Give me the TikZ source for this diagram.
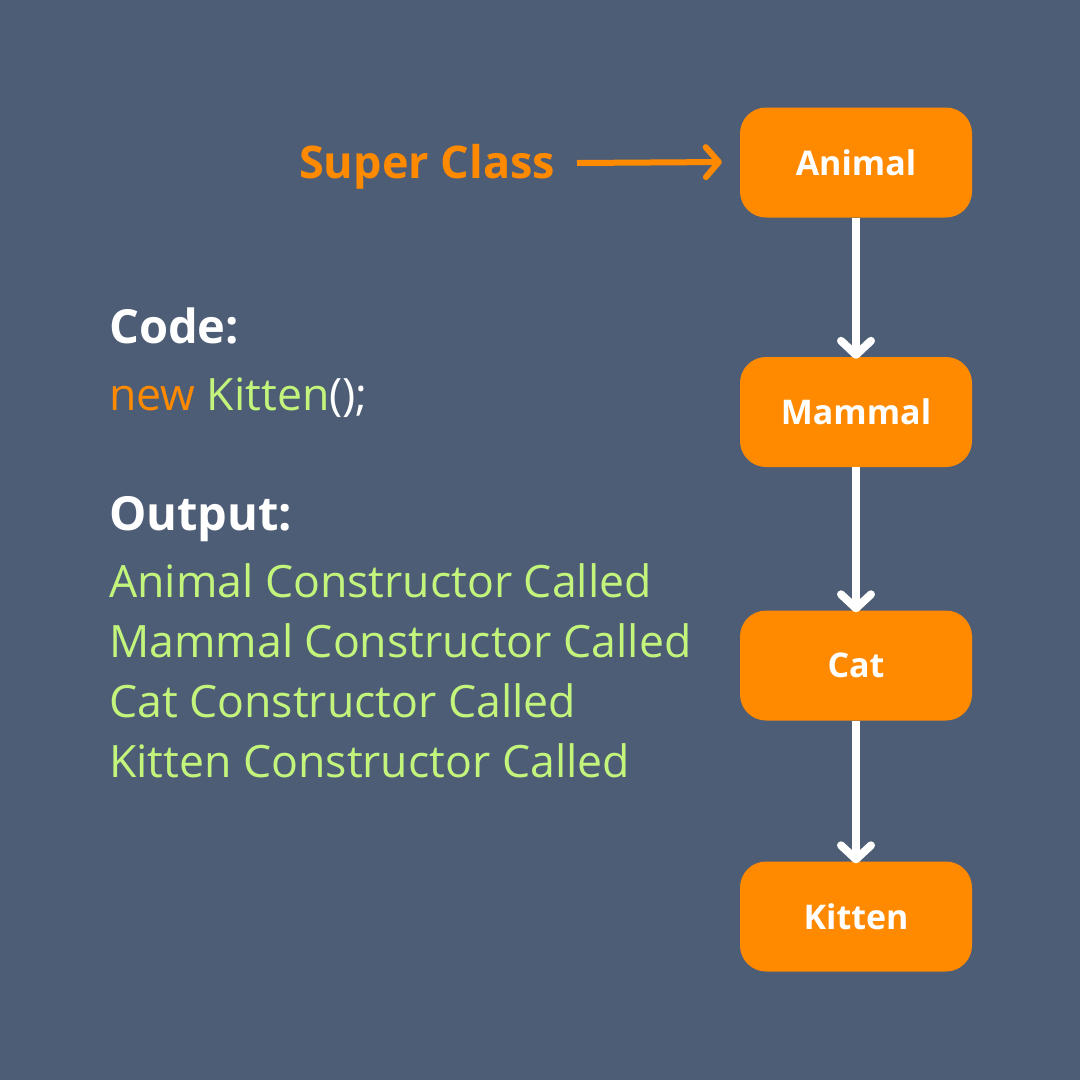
\documentclass[tikz,border=0pt]{standalone}
\usepackage{fontspec}
\setmainfont{Open Sans}
\usetikzlibrary{arrows.meta}
\definecolor{bg}{HTML}{4E5D76}
\definecolor{org}{HTML}{FF8A00}
\definecolor{grn}{HTML}{C3F57C}
\tikzset{
  classbox/.style={fill=org, rounded corners=26pt, minimum width=232pt, minimum height=110pt, text=white, font=\fontsize{34}{40}\selectfont\bfseries, inner sep=0pt},
  whitearrow/.style={draw=white, line width=8pt, -{Straight Barb[length=14pt, width=30pt, line width=8pt, round]}},
  orgarrow/.style={draw=org, line width=6pt, -{Straight Barb[length=13pt, width=30pt, line width=6pt, round]}},
  txt/.style={anchor=base west, inner sep=0pt, font=\fontsize{44.6}{50}\selectfont},
  hdr/.style={anchor=base west, inner sep=0pt, text=white, font=\fontsize{47}{52}\selectfont\bfseries},
}
\begin{document}
\begin{tikzpicture}[x=1pt,y=-1pt]
\fill[bg] (0,0) rectangle (1080,1080);
\useasboundingbox (0,0) rectangle (1080,1080);
\node[classbox] (animal) at (856,162.5) {Animal};
\node[classbox] (mammal) at (856,412) {Mammal};
\node[classbox] (cat) at (856,665.5) {Cat};
\node[classbox] (kitten) at (856,916.5) {Kitten};
\draw[whitearrow] (animal.south) -- ([yshift=-2pt]mammal.north);
\draw[whitearrow] (mammal.south) -- ([yshift=-2pt]cat.north);
\draw[whitearrow] (cat.south) -- ([yshift=-2pt]kitten.north);
\node[anchor=base west, inner sep=0pt, text=org, font=\fontsize{45}{50}\selectfont\bfseries] (super) at (299,178) {Super Class};
\coordinate (sstart) at (577,163);
\draw[orgarrow] (sstart) -- ([xshift=-18pt,yshift=0.5pt]animal.west);
\node[hdr] (code) at (109,343) {Code:};
\node[txt] (newk) at (109,410) {\textcolor{org}{new} \textcolor{grn}{Kitten}\textcolor{white}{();}};
\node[hdr] (output) at (109,530) {Output:};
\node[txt, text=grn] (l1) at (109,597) {Animal Constructor Called};
\node[txt, text=grn] (l2) at (109,657) {Mammal Constructor Called};
\node[txt, text=grn] (l3) at (109,717) {Cat Constructor Called};
\node[txt, text=grn] (l4) at (109,777) {Kitten Constructor Called};
\end{tikzpicture}
\end{document}
